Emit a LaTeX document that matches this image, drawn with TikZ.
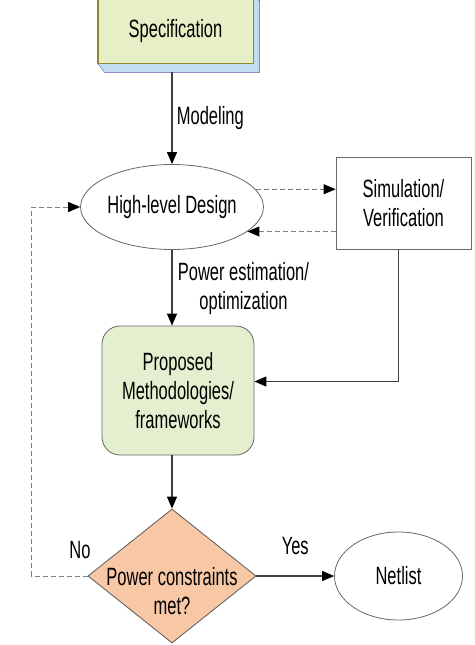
\documentclass[tikz,border=0pt]{standalone}
\usepackage{fontspec}
\setmainfont{Liberation Sans}[FakeStretch=0.66]
\usetikzlibrary{arrows.meta,shapes.geometric}

\definecolor{specface}{HTML}{E6EFC6}
\definecolor{specside}{HTML}{C4DCF0}
\definecolor{propfill}{HTML}{E4EFCF}
\definecolor{chkfill}{HTML}{F8C8A6}
\definecolor{linegray}{HTML}{404040}

\begin{document}
\begin{tikzpicture}[
  x=1pt,y=-1pt,
  every node/.style={font=\fontsize{25}{29}\selectfont,text=black},
  arr/.style={draw=linegray,line width=1.1pt,-{Triangle[length=12pt,width=10pt,color=black]}},
  darr/.style={arr,draw=gray,line width=0.9pt,dash pattern=on 5pt off 3pt},
  blk/.style={draw=gray!80!black,line width=0.8pt,inner sep=0pt,align=center}
  ]
  \useasboundingbox (0,0) rectangle (474,645);

  % specification block with its extruded sides
  \node[blk,draw=olive!70!gray,fill=specface,minimum width=155,minimum height=64] (spec) at (175.5,31) {Specification};
  \fill[specside,draw=gray!70!blue] (spec.south west) -- ++(7,9) -- ++(155,0) -- ++(0,-72) -- (spec.north east) -- (spec.south east) -- cycle;
  \draw[olive!70!gray,line width=0.8pt] (spec.south west) rectangle (spec.north east);

  \node[blk,ellipse,minimum width=158,minimum height=85] (hl) at (172,207) {High-level Design};
  \node[blk,minimum width=135,minimum height=92] (sim) at (403.5,203) {Simulation/\\Verification};
  \node[blk,fill=propfill,rounded corners=18,minimum width=152,minimum height=129] (prop) at (178,390.5) {Proposed\\Methodologies/\\frameworks};
  \node[blk,diamond,fill=chkfill,draw=gray!70!black,minimum width=168,minimum height=134,
    label={[align=center,yshift=-15pt]center:Power constraints\\met?}] (chk) at (172,576) {};
  \node[blk,ellipse,minimum width=128,minimum height=88] (net) at (398.5,576) {Netlist};

  % connectors
  \draw[arr] ([yshift=-9pt]hl.north |- spec.south) -- (hl.north)
    node[midway,right,xshift=1pt] {Modeling};
  \draw[darr] (hl.12) -- (hl.12 -| sim.west);
  \draw[darr] (hl.-18 -| sim.west) -- (hl.-18);
  \draw[arr] (hl.south) -- (hl.south |- prop.north)
    node[midway,right,align=center,xshift=2pt,yshift=-1pt] {Power estimation/\\optimization};
  \draw[arr] ([xshift=-5pt]sim.south) |- ([yshift=9pt]prop.east);
  \draw[arr] (chk.north |- prop.south) -- (chk.north);
  \draw[arr] (chk.east) -- (net.west) node[midway,above,yshift=17pt] {Yes};
  \draw[darr] (chk.west) -- ++(-56,0) |- (hl.west);
  \node (no) at (80,550) {No};
\end{tikzpicture}
\end{document}
